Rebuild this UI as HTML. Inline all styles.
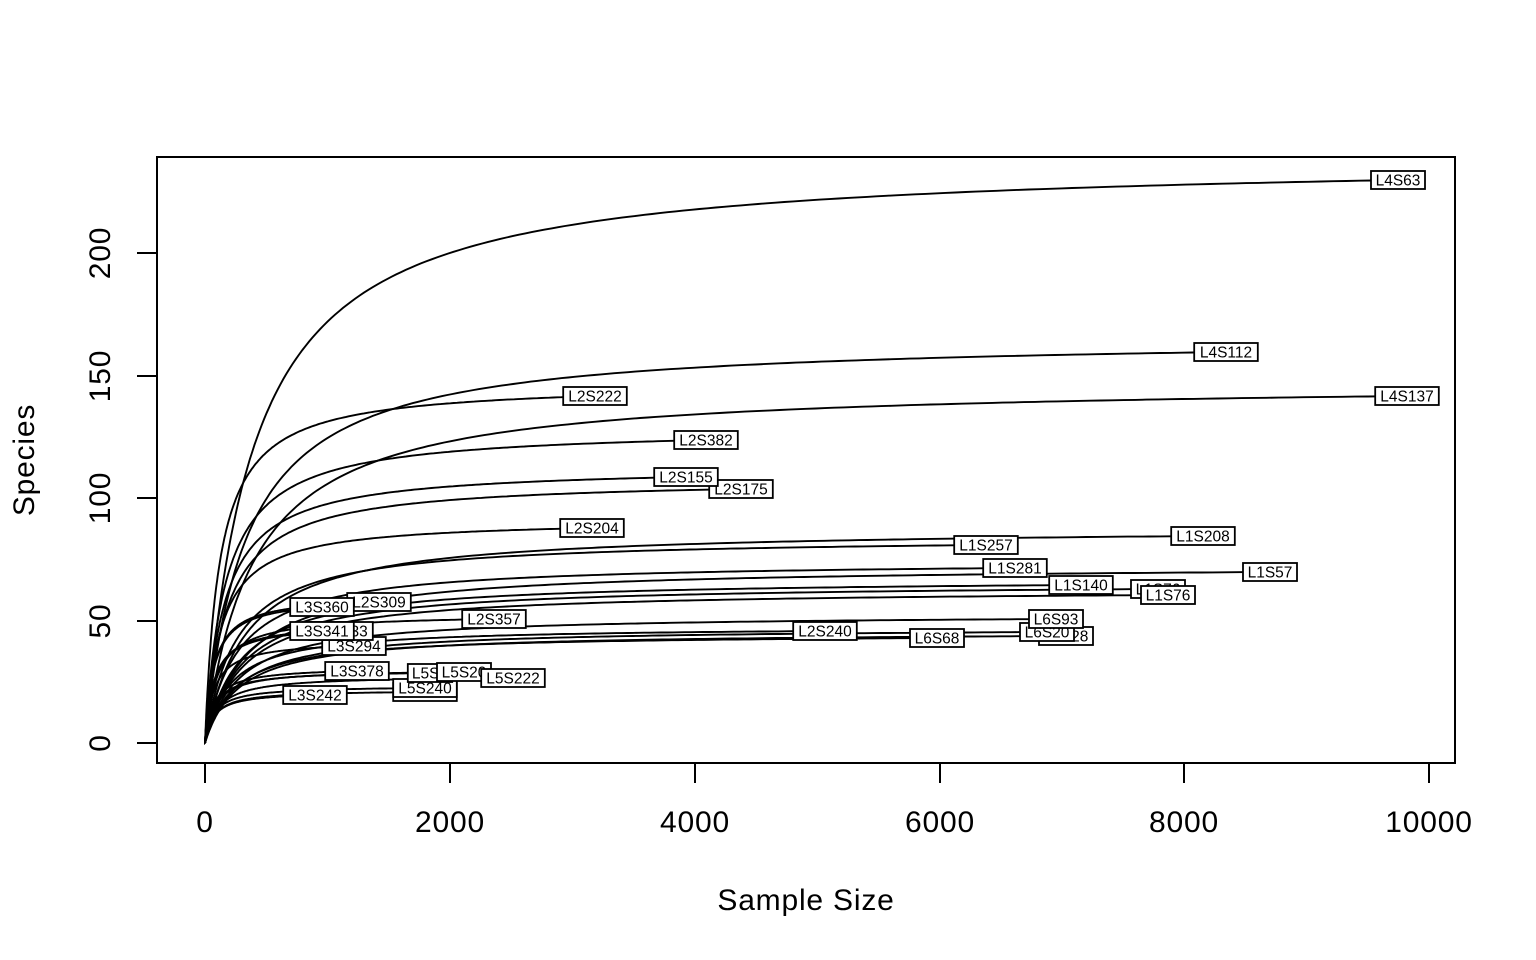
<!DOCTYPE html>
<html><head><meta charset="utf-8"><style>
html,body{margin:0;padding:0;background:#fff;}
svg{display:block;font-family:"Liberation Sans",Arial,sans-serif;}
</style></head><body>
<svg id="s" width="1536" height="960" xmlns="http://www.w3.org/2000/svg">
<g id="curves" fill="none" stroke="#000" stroke-width="1.9"></g>
<g id="labels"></g>
<rect x="157" y="157" width="1298" height="606" fill="none" stroke="#000" stroke-width="2"/>
<g stroke="#000" stroke-width="2">
<line x1="205" y1="763" x2="205" y2="783"/><line x1="450" y1="763" x2="450" y2="783"/>
<line x1="695" y1="763" x2="695" y2="783"/><line x1="940" y1="763" x2="940" y2="783"/>
<line x1="1184" y1="763" x2="1184" y2="783"/><line x1="1429" y1="763" x2="1429" y2="783"/>
<line x1="137" y1="743" x2="157" y2="743"/><line x1="137" y1="621" x2="157" y2="621"/>
<line x1="137" y1="498" x2="157" y2="498"/><line x1="137" y1="376" x2="157" y2="376"/>
<line x1="137" y1="253" x2="157" y2="253"/>
</g>
<g font-size="30" text-anchor="middle" fill="#000" letter-spacing="0.8">
<text x="205" y="832">0</text><text x="450" y="832">2000</text><text x="695" y="832">4000</text>
<text x="940" y="832">6000</text><text x="1184" y="832">8000</text><text x="1429" y="832">10000</text>
<text transform="translate(110,743) rotate(-90)">0</text>
<text transform="translate(110,621) rotate(-90)">50</text>
<text transform="translate(110,498) rotate(-90)">100</text>
<text transform="translate(110,376) rotate(-90)">150</text>
<text transform="translate(110,253) rotate(-90)">200</text>
<text x="806" y="910">Sample Size</text>
<text transform="translate(34,460) rotate(-90)">Species</text>
</g>
</svg>
<script>
var D=[
["L3S242",315,695],["L5S240b",425,692],["L5S240",425,688],["L5S2x",430,673],["L5S20",464,672],["L5S222",513,678],["L3S378",357,671],
["L3S294",354,646],["L3S333",341,631],["L3S341",322,631],["L2S357",494,619],["L2S309",379,602],["L3S360",322,607],
["L6S68",937,638],["L6S28",1066,636],["L6S20",1047,632],["L2S240",825,631],["L6S93",1056,619],
["L1S76x",1158,589],["L1S76",1168,595],["L1S140",1081,585],["L1S57",1270,572],["L1S281",1015,568],
["L1S257",986,545],["L1S208",1203,536],["L2S204",592,528],["L2S175",741,489],["L2S155",686,477],
["L2S382",706,440],["L2S222",595,396,120],["L4S137",1407,396],["L4S112",1226,352],["L4S63",1398,180]
];
var ns="http://www.w3.org/2000/svg",cg=document.getElementById("curves"),lg=document.getElementById("labels");
function X(n){return 205+n*0.1224;}function Y(s){return 743-s*2.45;}
D.forEach(function(d){
 var N=(d[1]-205)/0.1224,S=(743-d[2])/2.45,h=d[3]||Math.max(70,0.04*N);
 var Sinf=S*(N+h)/N,p="";
 for(var i=0;i<=200;i++){var n=1+(N-1)*Math.pow(i/200,2.2);var s=Sinf*n/(n+h);if(n<=1)s=1;
  p+=(i?"L":"M")+X(n).toFixed(1)+" "+Y(s).toFixed(1);}
 var e=document.createElementNS(ns,"path");e.setAttribute("d",p);cg.appendChild(e);
});
D.forEach(function(d){
 var name=d[0].replace(/[bx]$/,"");
 var w=name.length*9.6+6,g=document.createElementNS(ns,"g");
 var r=document.createElementNS(ns,"rect");
 r.setAttribute("x",d[1]-w/2);r.setAttribute("y",d[2]-9);r.setAttribute("width",w);r.setAttribute("height",18);
 r.setAttribute("fill","#fff");r.setAttribute("stroke","#000");r.setAttribute("stroke-width","1.8");
 var t=document.createElementNS(ns,"text");t.setAttribute("x",d[1]);t.setAttribute("y",d[2]+5.5);
 t.setAttribute("text-anchor","middle");t.setAttribute("font-size","15.5");t.textContent=name;
 g.appendChild(r);g.appendChild(t);lg.appendChild(g);
});
</script>
</body></html>
